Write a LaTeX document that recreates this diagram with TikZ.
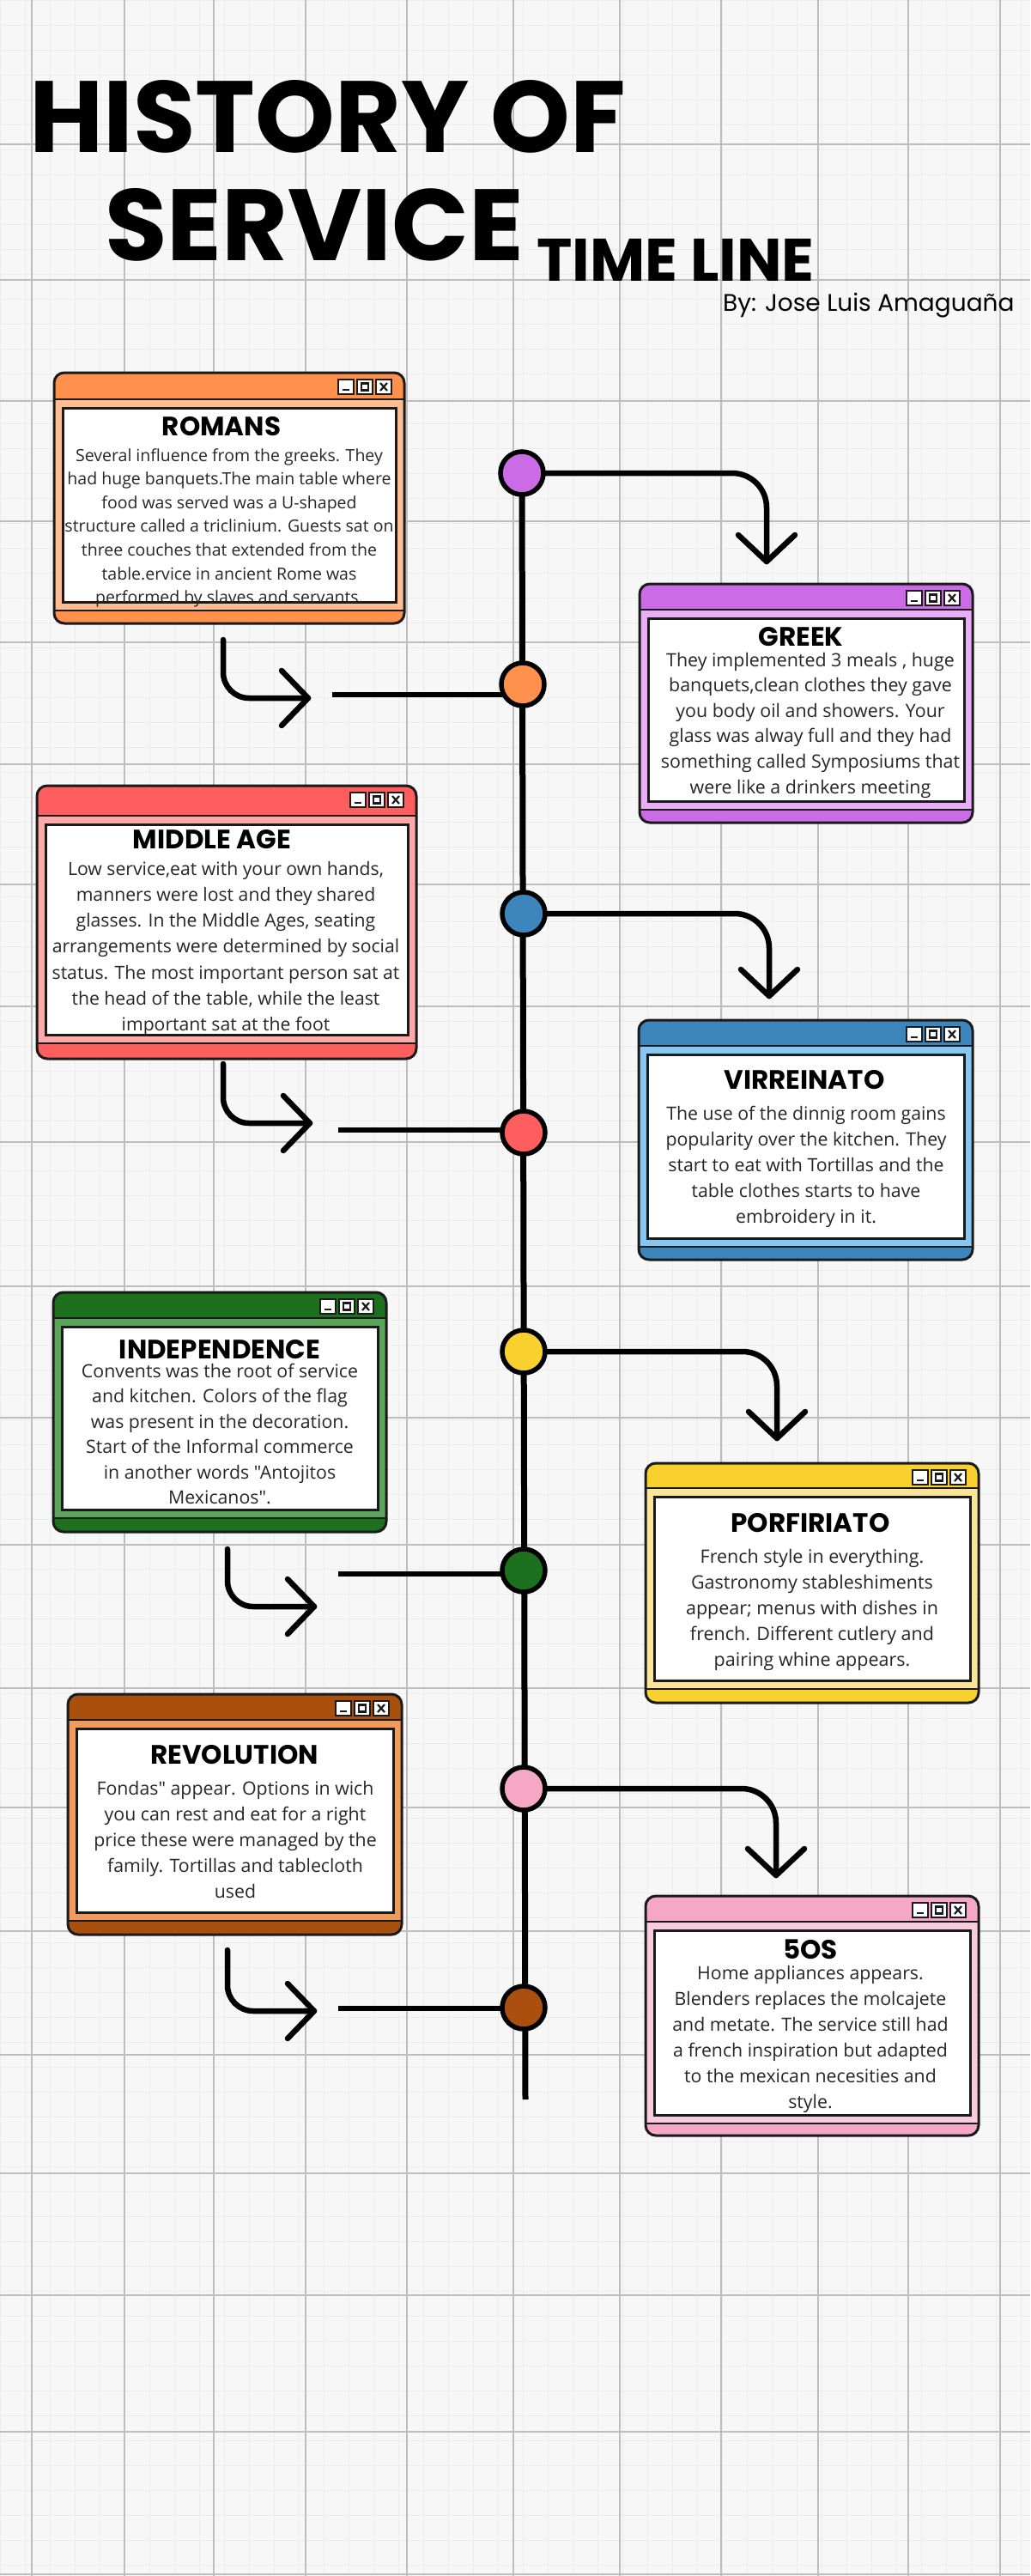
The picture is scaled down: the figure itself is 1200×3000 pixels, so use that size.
\documentclass[tikz,border=0pt]{standalone}
\usepackage{fontspec}
\usetikzlibrary{calc}
\newfontfamily\popfont{Poppins}
\newfontfamily\osfont{Open Sans}
\definecolor{ink}{HTML}{1A1A1A}
\definecolor{txt}{HTML}{262626}
\definecolor{paperbg}{HTML}{F7F7F7}
\definecolor{gridmaj}{HTML}{BDBDBD}
\definecolor{gridmin}{HTML}{ECECEC}
\definecolor{orD}{HTML}{FF914D}\definecolor{orL}{HTML}{FFBD91}
\definecolor{puD}{HTML}{CB6CE6}\definecolor{puL}{HTML}{EAAEF9}
\definecolor{reD}{HTML}{FF5E5E}\definecolor{reL}{HTML}{FFA9A9}
\definecolor{blD}{HTML}{3C86BD}\definecolor{blL}{HTML}{87C8F2}
\definecolor{grD}{HTML}{1D701D}\definecolor{grL}{HTML}{5CA35C}
\definecolor{yeD}{HTML}{F9D12F}\definecolor{yeL}{HTML}{FAE49A}
\definecolor{brD}{HTML}{A9500F}\definecolor{brL}{HTML}{F09A5B}
\definecolor{piD}{HTML}{F5A7C5}\definecolor{piL}{HTML}{F8CCDD}
\pgfdeclarelayer{paper}\pgfdeclarelayer{wires}
\pgfsetlayers{paper,wires,main}
\tikzset{
  hdr/.style={font=\popfont\bfseries\fontsize{31}{31}\selectfont, text=black, inner sep=0pt, anchor=base},
  bodytxt/.style={text=txt, inner sep=0pt, anchor=base},
  conn/.style={line width=6.5pt, draw=black, line cap=round, line join=round},
  dot/.style={circle, draw=black, line width=5.5pt, minimum size=50pt, inner sep=0pt},
}
% name, x1, y1, x2, y2, dark, light, title bar height, bottom bar height
\newcommand\winbox[9]{%
  \node[anchor=north west, inner sep=0pt, outer sep=0pt, fill=#7, rounded corners=12pt,
        minimum width={(#4-#2)*1pt}, minimum height={(#5-#3)*1pt}] (#1) at (#2,#3) {};
  \begin{scope}
    \clip[rounded corners=12pt] (#2,#3) rectangle (#4,#5);
    \fill[#6] (#2,#3) rectangle (#4,{#3+#8});
    \fill[#6] (#2,{#5-#9}) rectangle (#4,#5);
  \end{scope}
  \draw[ink, line width=2.6pt] (#2,{#3+#8}) -- (#4,{#3+#8});
  \draw[ink, line width=2.6pt] (#2,{#5-#9}) -- (#4,{#5-#9});
  \draw[ink, line width=3pt, rounded corners=12pt] (#2,#3) rectangle (#4,#5);
  \draw[ink, line width=3pt, fill=white] ({#2+10},{#3+#8+10}) rectangle ({#4-10},{#5-#9-10});
  \draw[ink, line width=2.2pt, fill=white] ({#4-77},{#3+8}) rectangle ++(18,17);
  \draw[ink, line width=2.2pt, fill=white] ({#4-55},{#3+8}) rectangle ++(18,17);
  \draw[ink, line width=2.2pt, fill=white] ({#4-33},{#3+8}) rectangle ++(18,17);
  \draw[ink, line width=2.6pt] ({#4-72},{#3+20}) -- ({#4-64},{#3+20});
  \draw[ink, line width=2.2pt] ({#4-50},{#3+12.5}) rectangle ({#4-42},{#3+20.5});
  \draw[ink, line width=2.2pt] ({#4-28},{#3+12}) -- ({#4-20},{#3+21}) ({#4-28},{#3+21}) -- ({#4-20},{#3+12});
}
% name, cx, first baseline, spacing, size, lines
\newcommand\bodylines[6]{%
  \foreach \ln [count=\i] in {#6} {
    \node[bodytxt, font=\osfont\fontsize{#5}{#5}\selectfont] (#1-\i) at (#2,{#3+(\i-1)*#4}) {\ln};
  }%
}
\begin{document}
\begin{tikzpicture}[x=1pt,y=-1pt]
\useasboundingbox (0,0) rectangle (1200,3000);
\begin{pgfonlayer}{paper}
  \fill[paperbg] (0,0) rectangle (1200,3000);
  \foreach \gx in {0,29,...,1200} \draw[gridmin, line width=0.6pt] (\gx,0) -- (\gx,3000);
  \foreach \gy in {0,29,...,3000} \draw[gridmin, line width=0.6pt] (0,\gy) -- (1200,\gy);
  \foreach \gx in {37,145,249,356,474,598,722,840,953,1058,1165}
    \draw[gridmaj, line width=1.6pt] (\gx,0) -- (\gx,3000);
  \foreach \gy in {168,326,467,607,748,890,1030,1172,1330,1498,1651,1799,1966,2105,2249,2393,2531,2673,2832,2998}
    \draw[gridmaj, line width=1.6pt] (0,\gy) -- (1200,\gy);
\end{pgfonlayer}

% ---- header
\node[anchor=base west, inner sep=0pt, font=\popfont\bfseries\fontsize{118}{118}\selectfont] (ttl1) at (34,177) {HISTORY OF};
\node[anchor=base west, inner sep=0pt, font=\popfont\bfseries\fontsize{118}{118}\selectfont] (ttl2) at (122,303) {SERVICE};
\node[anchor=base west, inner sep=0pt, font=\popfont\bfseries\fontsize{70}{70}\selectfont] (ttl3) at (625,327) {TIME LINE};
\node[anchor=base west, inner sep=0pt, font=\popfont\fontsize{28}{28}\selectfont] (author) at (842,362) {By: Jose Luis Amaguaña};

% ---- boxes
\winbox{romans}{63}{434}{471}{726}{orD}{orL}{31}{15}
\node[hdr] (romans-title) at (258,507) {ROMANS};
\bodylines{romans}{267}{537}{27.6}{19.5}{{Several influence from the greeks. They},{had huge banquets.The main table where},{food was served was a U-shaped},{structure called a triclinium. Guests sat on},{three couches that extended from the},{table.ervice in ancient Rome was},{performed by slaves and servants.}}

\winbox{greek}{745}{680}{1133}{958}{puD}{puL}{30}{15}
\node[hdr] (greek-title) at (933,752) {GREEK};
\bodylines{greek}{944}{776}{29.6}{21.4}{{They implemented 3 meals , huge},{banquets,clean clothes they gave},{you body oil and showers. Your},{glass was alway full and they had},{something called Symposiums that},{were like a drinkers meeting}}

\winbox{middle}{43}{915}{485}{1233}{reD}{reL}{35}{18}
\node[hdr] (middle-title) at (247,988) {MIDDLE AGE};
\bodylines{middle}{263}{1019}{30.3}{21.2}{{Low service,eat with your own hands,},{manners were lost and they shared},{glasses. In the Middle Ages, seating},{arrangements were determined by social},{status. The most important person sat at},{the head of the table, while the least},{important sat at the foot}}

\winbox{virr}{744}{1188}{1133}{1467}{blD}{blL}{30}{15}
\node[hdr] (virr-title) at (937,1268) {VIRREINATO};
\bodylines{virr}{939}{1304}{30}{21.3}{{The use of the dinnig room gains},{popularity over the kitchen. They},{start to eat with Tortillas and the},{table clothes starts to have},{embroidery in it.}}

\winbox{indep}{62}{1505}{450}{1784}{grD}{grL}{30}{16}
\node[hdr] (indep-title) at (256,1582) {INDEPENDENCE};
\bodylines{indep}{256}{1604}{29.5}{21.3}{{Convents was the root of service},{and kitchen. Colors of the flag},{was present in the decoration.},{Start of the Informal commerce},{in another words "Antojitos},{Mexicanos".}}

\winbox{porf}{752}{1704}{1140}{1983}{yeD}{yeL}{29}{16}
\node[hdr] (porf-title) at (944,1784) {PORFIRIATO};
\bodylines{porf}{946}{1820}{30}{21.5}{{French style in everything.},{Gastronomy stableshiments},{appear; menus with dishes in},{french. Different cutlery and},{pairing whine appears.}}

\winbox{revol}{79}{1973}{468}{2253}{brD}{brL}{30}{16}
\node[hdr] (revol-title) at (273,2054) {REVOLUTION};
\bodylines{revol}{274}{2090}{30}{21.3}{{Fondas" appear. Options in wich},{you can rest and eat for a right},{price these were managed by the},{family. Tortillas and tablecloth},{used}}

\winbox{fifties}{752}{2208}{1140}{2487}{piD}{piL}{30}{14}
\node[hdr] (fifties-title) at (944,2281) {5OS};
\bodylines{fifties}{944}{2305}{30}{21.3}{{Home appliances appears.},{Blenders replaces the molcajete},{and metate. The service still had},{a french inspiration but adapted},{to the mexican necesities and},{style.}}

% ---- timeline dots
\node[dot, fill=puD] (c1) at (608,551) {};
\node[dot, fill=orD] (c2) at (609,797) {};
\node[dot, fill=blD] (c3) at (610,1064) {};
\node[dot, fill=reD] (c4) at (610,1319) {};
\node[dot, fill=yeD] (c5) at (610,1574) {};
\node[dot, fill=grD] (c6) at (610,1829) {};
\node[dot, fill=piD] (c7) at (610,2083) {};
\node[dot, fill=brD] (c8) at (610,2338) {};
\coordinate (tl-end) at (612,2445);

% right-hand connector tips
\coordinate (t1) at (893,654);
\coordinate (t3) at (896,1160);
\coordinate (t5) at (905,1675);
\coordinate (t7) at (904,2184);
% left-hand connectors
\coordinate (s2) at (260,745);  \coordinate (a2) at (359,813);  \coordinate (m2) at (387,809);
\coordinate (s4) at (260,1239); \coordinate (a4) at (361,1308); \coordinate (m4) at (394,1316);
\coordinate (s6) at (265,1804); \coordinate (a6) at (366,1871); \coordinate (m6) at (394,1833);
\coordinate (s8) at (265,2271); \coordinate (a8) at (366,2342); \coordinate (m8) at (394,2339);

\begin{pgfonlayer}{wires}
  \draw[line width=7pt] (c1.center) -- (tl-end);
  \foreach \c/\t in {c1/t1,c3/t3,c5/t5,c7/t7} {
    \draw[conn, rounded corners=40pt] (\c.center) -| (\t);
    \draw[conn] ($(\t)+(-33,-31)$) -- (\t) -- ($(\t)+(33,-31)$);
  }
  \foreach \c/\s/\a/\m in {c2/s2/a2/m2,c4/s4/a4/m4,c6/s6/a6/m6,c8/s8/a8/m8} {
    \draw[conn, rounded corners=30pt] (\s) |- (\a);
    \draw[conn] ($(\a)+(-31,-32)$) -- (\a) -- ($(\a)+(-31,32)$);
    \draw[conn, line cap=butt] (\m) -- (\m -| \c.center);
  }
\end{pgfonlayer}
\end{tikzpicture}
\end{document}
